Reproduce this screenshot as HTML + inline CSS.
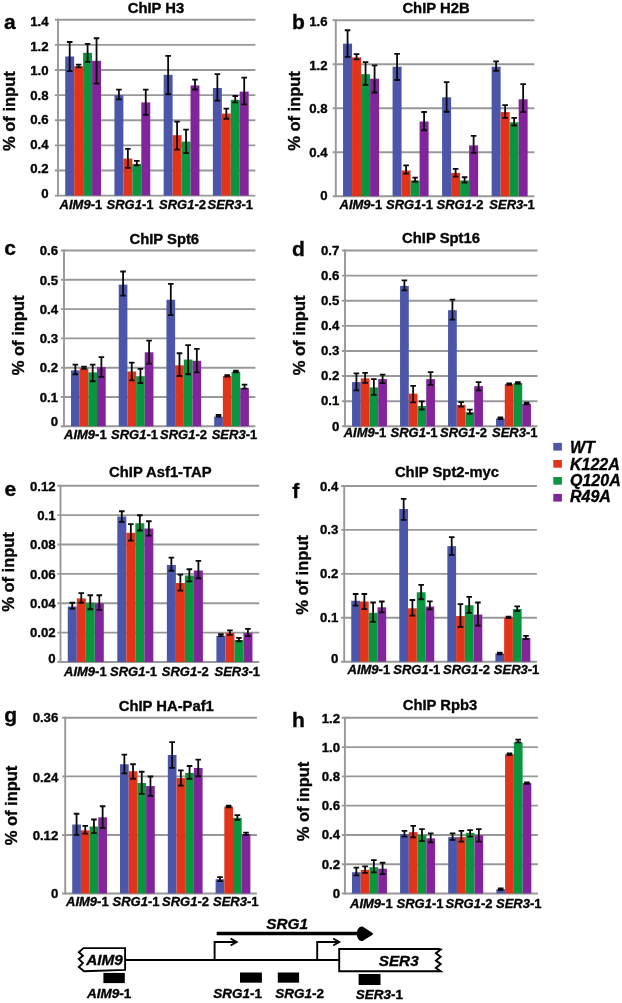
<!DOCTYPE html>
<html lang="en"><head><meta charset="utf-8"><title>ChIP figure</title>
<style>html,body{margin:0;padding:0;background:#fff}svg{display:block}text{font-family:'Liberation Sans', Arial, Helvetica, sans-serif;fill:#050505;stroke:#050505;stroke-width:0.35px}.b{font-weight:bold}.bi{font-weight:bold;font-style:italic}.grid{stroke:#989898;stroke-width:1.9;fill:none}.eb{stroke:#0a0a0a;stroke-width:1.8;fill:none}.blk{stroke:#000;fill:none}.k{fill:#000;stroke:#000}</style></head><body>
<svg width="622" height="1003" viewBox="0 0 622 1003">
<rect width="622" height="1003" fill="#fff"/>
<g id="panel-a">
<line class="grid" x1="54.9" y1="195.6" x2="255.4" y2="195.6"/>
<text class="b" font-size="13.2" text-anchor="end" x="48.6" y="197.8">0</text>
<line class="grid" x1="54.9" y1="170.49" x2="255.4" y2="170.49"/>
<text class="b" font-size="13.2" text-anchor="end" x="48.6" y="173.29">0.2</text>
<line class="grid" x1="54.9" y1="145.37" x2="255.4" y2="145.37"/>
<text class="b" font-size="13.2" text-anchor="end" x="48.6" y="148.72">0.4</text>
<line class="grid" x1="54.9" y1="120.26" x2="255.4" y2="120.26"/>
<text class="b" font-size="13.2" text-anchor="end" x="48.6" y="124.16">0.6</text>
<line class="grid" x1="54.9" y1="95.14" x2="255.4" y2="95.14"/>
<text class="b" font-size="13.2" text-anchor="end" x="48.6" y="99.64">0.8</text>
<line class="grid" x1="54.9" y1="70.03" x2="255.4" y2="70.03"/>
<text class="b" font-size="13.2" text-anchor="end" x="48.6" y="75.08">1.0</text>
<line class="grid" x1="54.9" y1="44.91" x2="255.4" y2="44.91"/>
<text class="b" font-size="13.2" text-anchor="end" x="48.6" y="50.51">1.2</text>
<line class="grid" x1="54.9" y1="19.8" x2="255.4" y2="19.8"/>
<text class="b" font-size="13.2" text-anchor="end" x="48.6" y="26">1.4</text>
<line class="grid" x1="58" y1="18.8" x2="58" y2="196.6"/>
<rect x="65.21" y="56.47" width="8.95" height="139.13" fill="#4b55a9"/>
<rect x="74.16" y="66.26" width="8.95" height="129.34" fill="#e2341a"/>
<rect x="83.11" y="52.83" width="8.95" height="142.77" fill="#0a963e"/>
<rect x="92.06" y="60.86" width="8.95" height="134.74" fill="#82249a"/>
<rect x="114.44" y="95.14" width="8.95" height="100.46" fill="#4b55a9"/>
<rect x="123.39" y="158.56" width="8.95" height="37.04" fill="#e2341a"/>
<rect x="132.34" y="163.96" width="8.95" height="31.64" fill="#0a963e"/>
<rect x="141.29" y="102.43" width="8.95" height="93.17" fill="#82249a"/>
<rect x="163.66" y="74.8" width="8.95" height="120.8" fill="#4b55a9"/>
<rect x="172.61" y="135.2" width="8.95" height="60.4" fill="#e2341a"/>
<rect x="181.56" y="141.6" width="8.95" height="54" fill="#0a963e"/>
<rect x="190.51" y="85.47" width="8.95" height="110.13" fill="#82249a"/>
<rect x="212.89" y="87.99" width="8.95" height="107.61" fill="#4b55a9"/>
<rect x="221.84" y="113.6" width="8.95" height="82" fill="#e2341a"/>
<rect x="230.79" y="99.79" width="8.95" height="95.81" fill="#0a963e"/>
<rect x="239.74" y="91.63" width="8.95" height="103.97" fill="#82249a"/>
<path class="eb" d="M69.69 41.52V71.66M66.89 42.02h5.6M66.89 71.16h5.6"/>
<path class="eb" d="M78.64 64.13V67.89M75.84 64.63h5.6M75.84 67.39h5.6"/>
<path class="eb" d="M87.59 43.28V62.37M84.79 43.78h5.6M84.79 61.87h5.6"/>
<path class="eb" d="M96.54 37.76V84.22M93.74 38.26h5.6M93.74 83.72h5.6"/>
<path class="eb" d="M118.91 89.12V99.79M116.11 89.62h5.6M116.11 99.29h5.6"/>
<path class="eb" d="M127.86 148.39V168.35M125.06 148.89h5.6M125.06 167.85h5.6"/>
<path class="eb" d="M136.81 160.44V165.84M134.01 160.94h5.6M134.01 165.34h5.6"/>
<path class="eb" d="M145.76 89.12V115.23M142.96 89.62h5.6M142.96 114.73h5.6"/>
<path class="eb" d="M168.14 55.34V94.77M165.34 55.84h5.6M165.34 94.27h5.6"/>
<path class="eb" d="M177.09 121.14V150.14M174.29 121.64h5.6M174.29 149.64h5.6"/>
<path class="eb" d="M186.04 129.17V153.66M183.24 129.67h5.6M183.24 153.16h5.6"/>
<path class="eb" d="M194.99 79.2V89.99M192.19 79.7h5.6M192.19 89.49h5.6"/>
<path class="eb" d="M217.36 73.67V101.17M214.56 74.17h5.6M214.56 100.67h5.6"/>
<path class="eb" d="M226.31 108.08V119.25M223.51 108.58h5.6M223.51 118.75h5.6"/>
<path class="eb" d="M235.26 95.52V102.93M232.46 96.02h5.6M232.46 102.43h5.6"/>
<path class="eb" d="M244.21 77.19V104.94M241.41 77.69h5.6M241.41 104.44h5.6"/>
<text font-size="13" x="59.6" y="209"><tspan class="bi">AIM9</tspan><tspan class="b">-1</tspan></text>
<text font-size="13" x="106.5" y="209"><tspan class="bi">SRG1</tspan><tspan class="b">-1</tspan></text>
<text font-size="13" x="159" y="209"><tspan class="bi">SRG1</tspan><tspan class="b">-2</tspan></text>
<text font-size="13" x="207.5" y="209"><tspan class="bi">SER3</tspan><tspan class="b">-1</tspan></text>
<text class="b" font-size="14.8" text-anchor="middle" x="156" y="13.2">ChIP H3</text>
<text class="b" font-size="21" x="4" y="29.3">a</text>
<text class="b" font-size="16.5" text-anchor="middle" transform="translate(15.4 111.1) rotate(-90)">% of input</text>
</g>
<g id="panel-b">
<line class="grid" x1="332.7" y1="196.2" x2="534.4" y2="196.2"/>
<text class="b" font-size="13.2" text-anchor="end" x="327.6" y="200.1">0</text>
<line class="grid" x1="332.7" y1="152.2" x2="534.4" y2="152.2"/>
<text class="b" font-size="13.2" text-anchor="end" x="327.6" y="156.65">0.4</text>
<line class="grid" x1="332.7" y1="108.2" x2="534.4" y2="108.2"/>
<text class="b" font-size="13.2" text-anchor="end" x="327.6" y="113.2">0.8</text>
<line class="grid" x1="332.7" y1="64.2" x2="534.4" y2="64.2"/>
<text class="b" font-size="13.2" text-anchor="end" x="327.6" y="69.75">1.2</text>
<line class="grid" x1="332.7" y1="20.2" x2="534.4" y2="20.2"/>
<text class="b" font-size="13.2" text-anchor="end" x="327.6" y="26.3">1.6</text>
<line class="grid" x1="335.8" y1="19.2" x2="335.8" y2="197.2"/>
<rect x="343.05" y="43.63" width="9" height="152.57" fill="#4b55a9"/>
<rect x="352.06" y="57.38" width="9" height="138.82" fill="#e2341a"/>
<rect x="361.06" y="74.21" width="9" height="121.99" fill="#0a963e"/>
<rect x="370.07" y="78.72" width="9" height="117.48" fill="#82249a"/>
<rect x="392.58" y="66.73" width="9" height="129.47" fill="#4b55a9"/>
<rect x="401.58" y="170.46" width="9" height="25.74" fill="#e2341a"/>
<rect x="410.59" y="180.47" width="9" height="15.73" fill="#0a963e"/>
<rect x="419.59" y="121.51" width="9" height="74.69" fill="#82249a"/>
<rect x="442.1" y="97.31" width="9" height="98.89" fill="#4b55a9"/>
<rect x="451.11" y="172.88" width="9" height="23.32" fill="#e2341a"/>
<rect x="460.11" y="180.47" width="9" height="15.73" fill="#0a963e"/>
<rect x="469.12" y="145.38" width="9" height="50.82" fill="#82249a"/>
<rect x="491.63" y="66.73" width="9" height="129.47" fill="#4b55a9"/>
<rect x="500.63" y="112.05" width="9" height="84.15" fill="#e2341a"/>
<rect x="509.64" y="122.28" width="9" height="73.92" fill="#0a963e"/>
<rect x="518.64" y="99.29" width="9" height="96.91" fill="#82249a"/>
<path class="eb" d="M347.56 29.77V57.38M344.76 30.27h5.6M344.76 56.88h5.6"/>
<path class="eb" d="M356.56 53.64V59.91M353.76 54.14h5.6M353.76 59.41h5.6"/>
<path class="eb" d="M365.56 61.67V85.43M362.76 62.17h5.6M362.76 84.93h5.6"/>
<path class="eb" d="M374.57 64.86V93.02M371.77 65.36h5.6M371.77 92.52h5.6"/>
<path class="eb" d="M397.08 53.42V80.48M394.28 53.92h5.6M394.28 79.98h5.6"/>
<path class="eb" d="M406.09 164.85V174.2M403.29 165.35h5.6M403.29 173.7h5.6"/>
<path class="eb" d="M415.09 177.17V182.23M412.29 177.67h5.6M412.29 181.73h5.6"/>
<path class="eb" d="M424.09 111.5V130.75M421.29 112h5.6M421.29 130.25h5.6"/>
<path class="eb" d="M446.61 81.69V112.27M443.81 82.19h5.6M443.81 111.77h5.6"/>
<path class="eb" d="M455.61 168.37V177.17M452.81 168.87h5.6M452.81 176.67h5.6"/>
<path class="eb" d="M464.61 176.73V183M461.81 177.23h5.6M461.81 182.5h5.6"/>
<path class="eb" d="M473.62 135.37V153.3M470.82 135.87h5.6M470.82 152.8h5.6"/>
<path class="eb" d="M496.13 60.9V71.24M493.33 61.4h5.6M493.33 70.74h5.6"/>
<path class="eb" d="M505.14 104.68V118.32M502.34 105.18h5.6M502.34 117.82h5.6"/>
<path class="eb" d="M514.14 117.33V126.02M511.34 117.83h5.6M511.34 125.52h5.6"/>
<path class="eb" d="M523.14 83.67V112.71M520.34 84.17h5.6M520.34 112.21h5.6"/>
<text font-size="13" x="339.5" y="209.1"><tspan class="bi">AIM9</tspan><tspan class="b">-1</tspan></text>
<text font-size="13" x="386" y="209.1"><tspan class="bi">SRG1</tspan><tspan class="b">-1</tspan></text>
<text font-size="13" x="436.5" y="209.1"><tspan class="bi">SRG1</tspan><tspan class="b">-2</tspan></text>
<text font-size="13" x="489.3" y="209.1"><tspan class="bi">SER3</tspan><tspan class="b">-1</tspan></text>
<text class="b" font-size="14.8" text-anchor="middle" x="436" y="13">ChIP H2B</text>
<text class="b" font-size="21" x="291.9" y="28.6">b</text>
<text class="b" font-size="16.5" text-anchor="middle" transform="translate(299.7 111) rotate(-90)">% of input</text>
</g>
<g id="panel-c">
<line class="grid" x1="60.9" y1="426.3" x2="255.4" y2="426.3"/>
<text class="b" font-size="13.2" text-anchor="end" x="58" y="426.4">0</text>
<line class="grid" x1="60.9" y1="397" x2="255.4" y2="397"/>
<text class="b" font-size="13.2" text-anchor="end" x="58" y="401.6">0.1</text>
<line class="grid" x1="60.9" y1="367.7" x2="255.4" y2="367.7"/>
<text class="b" font-size="13.2" text-anchor="end" x="58" y="372.3">0.2</text>
<line class="grid" x1="60.9" y1="338.4" x2="255.4" y2="338.4"/>
<text class="b" font-size="13.2" text-anchor="end" x="58" y="343">0.3</text>
<line class="grid" x1="60.9" y1="309.1" x2="255.4" y2="309.1"/>
<text class="b" font-size="13.2" text-anchor="end" x="58" y="313.7">0.4</text>
<line class="grid" x1="60.9" y1="279.8" x2="255.4" y2="279.8"/>
<text class="b" font-size="13.2" text-anchor="end" x="58" y="284.5">0.5</text>
<line class="grid" x1="60.9" y1="250.5" x2="255.4" y2="250.5"/>
<text class="b" font-size="13.2" text-anchor="end" x="58" y="255.2">0.6</text>
<line class="grid" x1="64" y1="249.5" x2="64" y2="427.3"/>
<rect x="71.01" y="370.34" width="8.68" height="55.96" fill="#4b55a9"/>
<rect x="79.69" y="368.29" width="8.68" height="58.01" fill="#e2341a"/>
<rect x="88.36" y="372.39" width="8.68" height="53.91" fill="#0a963e"/>
<rect x="97.04" y="367.11" width="8.68" height="59.19" fill="#82249a"/>
<rect x="118.73" y="284.63" width="8.68" height="141.67" fill="#4b55a9"/>
<rect x="127.41" y="371.51" width="8.68" height="54.79" fill="#e2341a"/>
<rect x="136.09" y="376.2" width="8.68" height="50.1" fill="#0a963e"/>
<rect x="144.76" y="352.29" width="8.68" height="74.01" fill="#82249a"/>
<rect x="166.46" y="299.72" width="8.68" height="126.58" fill="#4b55a9"/>
<rect x="175.14" y="365.36" width="8.68" height="60.94" fill="#e2341a"/>
<rect x="183.81" y="359.58" width="8.68" height="66.72" fill="#0a963e"/>
<rect x="192.49" y="360.81" width="8.68" height="65.49" fill="#82249a"/>
<rect x="214.18" y="416.75" width="8.68" height="9.55" fill="#4b55a9"/>
<rect x="222.86" y="375.9" width="8.68" height="50.4" fill="#e2341a"/>
<rect x="231.54" y="371.6" width="8.68" height="54.7" fill="#0a963e"/>
<rect x="240.21" y="387.92" width="8.68" height="38.38" fill="#82249a"/>
<path class="eb" d="M75.35 364.18V374.73M72.55 364.68h5.6M72.55 374.23h5.6"/>
<path class="eb" d="M84.02 366.24V369.46M81.22 366.74h5.6M81.22 368.96h5.6"/>
<path class="eb" d="M92.7 364.18V381.76M89.9 364.68h5.6M89.9 381.26h5.6"/>
<path class="eb" d="M101.38 356.57V377.37M98.58 357.07h5.6M98.58 376.87h5.6"/>
<path class="eb" d="M123.07 271.01V296.21M120.27 271.51h5.6M120.27 295.71h5.6"/>
<path class="eb" d="M131.75 362.13V380.88M128.95 362.63h5.6M128.95 380.38h5.6"/>
<path class="eb" d="M140.43 368.29V383.52M137.63 368.79h5.6M137.63 383.02h5.6"/>
<path class="eb" d="M149.1 340.16V364.18M146.3 340.66h5.6M146.3 363.68h5.6"/>
<path class="eb" d="M170.8 283.32V315.55M168 283.82h5.6M168 315.05h5.6"/>
<path class="eb" d="M179.47 352.76V376.49M176.67 353.26h5.6M176.67 375.99h5.6"/>
<path class="eb" d="M188.15 344.55V374.73M185.35 345.05h5.6M185.35 374.23h5.6"/>
<path class="eb" d="M196.83 348.36V372.97M194.03 348.86h5.6M194.03 372.47h5.6"/>
<path class="eb" d="M218.52 414.29V417.22M215.72 414.79h5.6M215.72 416.72h5.6"/>
<path class="eb" d="M227.2 374.6V377.2M224.4 375.1h5.6M224.4 376.7h5.6"/>
<path class="eb" d="M235.88 370.21V372.81M233.08 370.71h5.6M233.08 372.31h5.6"/>
<path class="eb" d="M244.55 384.11V389.09M241.75 384.61h5.6M241.75 388.59h5.6"/>
<text font-size="13" x="64" y="439.2"><tspan class="bi">AIM9</tspan><tspan class="b">-1</tspan></text>
<text font-size="13" x="111" y="439.2"><tspan class="bi">SRG1</tspan><tspan class="b">-1</tspan></text>
<text font-size="13" x="160" y="439.2"><tspan class="bi">SRG1</tspan><tspan class="b">-2</tspan></text>
<text font-size="13" x="211.7" y="439.2"><tspan class="bi">SER3</tspan><tspan class="b">-1</tspan></text>
<text class="b" font-size="14.8" text-anchor="middle" x="164.3" y="244">ChIP Spt6</text>
<text class="b" font-size="21" x="4.2" y="254.7">c</text>
<text class="b" font-size="16.5" text-anchor="middle" transform="translate(24 335.4) rotate(-90)">% of input</text>
</g>
<g id="panel-d">
<line class="grid" x1="341.9" y1="426.3" x2="537.5" y2="426.3"/>
<text class="b" font-size="13.2" text-anchor="end" x="339.3" y="430.6">0</text>
<line class="grid" x1="341.9" y1="401.19" x2="537.5" y2="401.19"/>
<text class="b" font-size="13.2" text-anchor="end" x="339.3" y="405.49">0.1</text>
<line class="grid" x1="341.9" y1="376.07" x2="537.5" y2="376.07"/>
<text class="b" font-size="13.2" text-anchor="end" x="339.3" y="380.07">0.2</text>
<line class="grid" x1="341.9" y1="350.96" x2="537.5" y2="350.96"/>
<text class="b" font-size="13.2" text-anchor="end" x="339.3" y="355.26">0.3</text>
<line class="grid" x1="341.9" y1="325.84" x2="537.5" y2="325.84"/>
<text class="b" font-size="13.2" text-anchor="end" x="339.3" y="329.64">0.4</text>
<line class="grid" x1="341.9" y1="300.73" x2="537.5" y2="300.73"/>
<text class="b" font-size="13.2" text-anchor="end" x="339.3" y="304.53">0.5</text>
<line class="grid" x1="341.9" y1="275.61" x2="537.5" y2="275.61"/>
<text class="b" font-size="13.2" text-anchor="end" x="339.3" y="279.61">0.6</text>
<line class="grid" x1="341.9" y1="250.5" x2="537.5" y2="250.5"/>
<text class="b" font-size="13.2" text-anchor="end" x="339.3" y="254.8">0.7</text>
<line class="grid" x1="345" y1="249.5" x2="345" y2="427.3"/>
<rect x="352.05" y="382.1" width="8.73" height="44.2" fill="#4b55a9"/>
<rect x="360.77" y="378.33" width="8.73" height="47.97" fill="#e2341a"/>
<rect x="369.5" y="387.37" width="8.73" height="38.93" fill="#0a963e"/>
<rect x="378.23" y="379.09" width="8.73" height="47.21" fill="#82249a"/>
<rect x="400.05" y="285.91" width="8.73" height="140.39" fill="#4b55a9"/>
<rect x="408.77" y="393.65" width="8.73" height="32.65" fill="#e2341a"/>
<rect x="417.5" y="405.96" width="8.73" height="20.34" fill="#0a963e"/>
<rect x="426.23" y="379.09" width="8.73" height="47.21" fill="#82249a"/>
<rect x="448.05" y="310.15" width="8.73" height="116.15" fill="#4b55a9"/>
<rect x="456.77" y="404.95" width="8.73" height="21.35" fill="#e2341a"/>
<rect x="465.5" y="412.24" width="8.73" height="14.06" fill="#0a963e"/>
<rect x="474.23" y="386.12" width="8.73" height="40.18" fill="#82249a"/>
<rect x="496.05" y="418.51" width="8.73" height="7.79" fill="#4b55a9"/>
<rect x="504.77" y="384.11" width="8.73" height="42.19" fill="#e2341a"/>
<rect x="513.5" y="383.1" width="8.73" height="43.2" fill="#0a963e"/>
<rect x="522.23" y="403.7" width="8.73" height="22.6" fill="#82249a"/>
<path class="eb" d="M356.41 372.81V390.89M353.61 373.31h5.6M353.61 390.39h5.6"/>
<path class="eb" d="M365.14 372.3V383.35M362.34 372.8h5.6M362.34 382.85h5.6"/>
<path class="eb" d="M373.86 378.58V395.41M371.06 379.08h5.6M371.06 394.91h5.6"/>
<path class="eb" d="M382.59 374.06V383.61M379.79 374.56h5.6M379.79 383.11h5.6"/>
<path class="eb" d="M404.41 279.88V290.93M401.61 280.38h5.6M401.61 290.43h5.6"/>
<path class="eb" d="M413.14 385.36V402.94M410.34 385.86h5.6M410.34 402.44h5.6"/>
<path class="eb" d="M421.86 400.93V409.98M419.06 401.43h5.6M419.06 409.48h5.6"/>
<path class="eb" d="M430.59 371.55V385.36M427.79 372.05h5.6M427.79 384.86h5.6"/>
<path class="eb" d="M452.41 299.22V320.07M449.61 299.72h5.6M449.61 319.57h5.6"/>
<path class="eb" d="M461.14 401.69V407.21M458.34 402.19h5.6M458.34 406.71h5.6"/>
<path class="eb" d="M469.86 409.22V414.25M467.06 409.72h5.6M467.06 413.75h5.6"/>
<path class="eb" d="M478.59 381.6V390.89M475.79 382.1h5.6M475.79 390.39h5.6"/>
<path class="eb" d="M500.41 416.96V419.56M497.61 417.46h5.6M497.61 419.06h5.6"/>
<path class="eb" d="M509.14 382.81V385.41M506.34 383.31h5.6M506.34 384.91h5.6"/>
<path class="eb" d="M517.86 381.68V384.28M515.06 382.18h5.6M515.06 383.78h5.6"/>
<path class="eb" d="M526.59 402.27V404.87M523.79 402.77h5.6M523.79 404.37h5.6"/>
<text font-size="13" x="343.7" y="437"><tspan class="bi">AIM9</tspan><tspan class="b">-1</tspan></text>
<text font-size="13" x="390.5" y="437"><tspan class="bi">SRG1</tspan><tspan class="b">-1</tspan></text>
<text font-size="13" x="440" y="437"><tspan class="bi">SRG1</tspan><tspan class="b">-2</tspan></text>
<text font-size="13" x="492" y="437"><tspan class="bi">SER3</tspan><tspan class="b">-1</tspan></text>
<text class="b" font-size="14.8" text-anchor="middle" x="441" y="243">ChIP Spt16</text>
<text class="b" font-size="21" x="292" y="255.6">d</text>
<text class="b" font-size="16.5" text-anchor="middle" transform="translate(305.4 335.4) rotate(-90)">% of input</text>
</g>
<g id="panel-e">
<line class="grid" x1="57.4" y1="662" x2="259.2" y2="662"/>
<text class="b" font-size="13.2" text-anchor="end" x="55.6" y="662.9">0</text>
<line class="grid" x1="57.4" y1="632.63" x2="259.2" y2="632.63"/>
<text class="b" font-size="13.2" text-anchor="end" x="55.6" y="637.13">0.02</text>
<line class="grid" x1="57.4" y1="603.27" x2="259.2" y2="603.27"/>
<text class="b" font-size="13.2" text-anchor="end" x="55.6" y="607.77">0.04</text>
<line class="grid" x1="57.4" y1="573.9" x2="259.2" y2="573.9"/>
<text class="b" font-size="13.2" text-anchor="end" x="55.6" y="578.5">0.06</text>
<line class="grid" x1="57.4" y1="544.53" x2="259.2" y2="544.53"/>
<text class="b" font-size="13.2" text-anchor="end" x="55.6" y="549.13">0.08</text>
<line class="grid" x1="57.4" y1="515.17" x2="259.2" y2="515.17"/>
<text class="b" font-size="13.2" text-anchor="end" x="55.6" y="519.87">0.1</text>
<line class="grid" x1="57.4" y1="485.8" x2="259.2" y2="485.8"/>
<text class="b" font-size="13.2" text-anchor="end" x="55.6" y="490.5">0.12</text>
<line class="grid" x1="60.5" y1="484.8" x2="60.5" y2="663"/>
<rect x="67.76" y="606.5" width="9.01" height="55.5" fill="#4b55a9"/>
<rect x="76.77" y="598.42" width="9.01" height="63.58" fill="#e2341a"/>
<rect x="85.77" y="602.83" width="9.01" height="59.17" fill="#0a963e"/>
<rect x="94.78" y="603.27" width="9.01" height="58.73" fill="#82249a"/>
<rect x="117.31" y="516.49" width="9.01" height="145.51" fill="#4b55a9"/>
<rect x="126.32" y="532.79" width="9.01" height="129.21" fill="#e2341a"/>
<rect x="135.32" y="523.24" width="9.01" height="138.76" fill="#0a963e"/>
<rect x="144.33" y="528.53" width="9.01" height="133.47" fill="#82249a"/>
<rect x="166.86" y="564.94" width="9.01" height="97.06" fill="#4b55a9"/>
<rect x="175.87" y="583" width="9.01" height="79" fill="#e2341a"/>
<rect x="184.88" y="575.52" width="9.01" height="86.48" fill="#0a963e"/>
<rect x="193.88" y="570.52" width="9.01" height="91.48" fill="#82249a"/>
<rect x="216.41" y="635.86" width="9.01" height="26.14" fill="#4b55a9"/>
<rect x="225.42" y="632.93" width="9.01" height="29.07" fill="#e2341a"/>
<rect x="234.42" y="639.98" width="9.01" height="22.02" fill="#0a963e"/>
<rect x="243.43" y="632.93" width="9.01" height="29.07" fill="#82249a"/>
<path class="eb" d="M72.26 602.24V609.14M69.46 602.74h5.6M69.46 608.64h5.6"/>
<path class="eb" d="M81.27 592.69V603.27M78.47 593.19h5.6M78.47 602.77h5.6"/>
<path class="eb" d="M90.28 594.75V609.73M87.48 595.25h5.6M87.48 609.23h5.6"/>
<path class="eb" d="M99.29 594.75V610.31M96.49 595.25h5.6M96.49 609.81h5.6"/>
<path class="eb" d="M121.81 510.76V522.36M119.01 511.26h5.6M119.01 521.86h5.6"/>
<path class="eb" d="M130.82 523.54V541.16M128.02 524.04h5.6M128.02 540.66h5.6"/>
<path class="eb" d="M139.83 514.73V531.02M137.03 515.23h5.6M137.03 530.52h5.6"/>
<path class="eb" d="M148.84 520.75V536.16M146.04 521.25h5.6M146.04 535.66h5.6"/>
<path class="eb" d="M171.36 557.16V571.26M168.56 557.66h5.6M168.56 570.76h5.6"/>
<path class="eb" d="M180.37 574.19V591.08M177.57 574.69h5.6M177.57 590.58h5.6"/>
<path class="eb" d="M189.38 568.76V581.83M186.58 569.26h5.6M186.58 581.33h5.6"/>
<path class="eb" d="M198.39 560.39V578.75M195.59 560.89h5.6M195.59 578.25h5.6"/>
<path class="eb" d="M220.91 633.66V636.6M218.11 634.16h5.6M218.11 636.1h5.6"/>
<path class="eb" d="M229.92 629.84V635.42M227.12 630.34h5.6M227.12 634.92h5.6"/>
<path class="eb" d="M238.93 637.33V641.74M236.13 637.83h5.6M236.13 641.24h5.6"/>
<path class="eb" d="M247.94 628.38V636.6M245.14 628.88h5.6M245.14 636.1h5.6"/>
<text font-size="13" x="64" y="675.5"><tspan class="bi">AIM9</tspan><tspan class="b">-1</tspan></text>
<text font-size="13" x="110" y="675.5"><tspan class="bi">SRG1</tspan><tspan class="b">-1</tspan></text>
<text font-size="13" x="161.8" y="675.5"><tspan class="bi">SRG1</tspan><tspan class="b">-2</tspan></text>
<text font-size="13" x="214.5" y="675.5"><tspan class="bi">SER3</tspan><tspan class="b">-1</tspan></text>
<text class="b" font-size="14.8" text-anchor="middle" x="160.3" y="477">ChIP Asf1-TAP</text>
<text class="b" font-size="21" x="4.5" y="495.8">e</text>
<text class="b" font-size="16.5" text-anchor="middle" transform="translate(14.2 572) rotate(-90)">% of input</text>
</g>
<g id="panel-f">
<line class="grid" x1="341.1" y1="661.7" x2="536.9" y2="661.7"/>
<text class="b" font-size="13.2" text-anchor="end" x="338.3" y="663.3">0</text>
<line class="grid" x1="341.1" y1="617.78" x2="536.9" y2="617.78"/>
<text class="b" font-size="13.2" text-anchor="end" x="338.3" y="622.28">0.1</text>
<line class="grid" x1="341.1" y1="573.85" x2="536.9" y2="573.85"/>
<text class="b" font-size="13.2" text-anchor="end" x="338.3" y="577.95">0.2</text>
<line class="grid" x1="341.1" y1="529.92" x2="536.9" y2="529.92"/>
<text class="b" font-size="13.2" text-anchor="end" x="338.3" y="534.22">0.3</text>
<line class="grid" x1="341.1" y1="486" x2="536.9" y2="486"/>
<text class="b" font-size="13.2" text-anchor="end" x="338.3" y="490.6">0.4</text>
<line class="grid" x1="344.2" y1="485" x2="344.2" y2="662.7"/>
<rect x="351.25" y="600.78" width="8.74" height="60.92" fill="#4b55a9"/>
<rect x="359.99" y="601.52" width="8.74" height="60.18" fill="#e2341a"/>
<rect x="368.73" y="612.81" width="8.74" height="48.89" fill="#0a963e"/>
<rect x="377.46" y="607.28" width="8.74" height="54.42" fill="#82249a"/>
<rect x="399.3" y="508.97" width="8.74" height="152.73" fill="#4b55a9"/>
<rect x="408.04" y="608.29" width="8.74" height="53.41" fill="#e2341a"/>
<rect x="416.78" y="592.25" width="8.74" height="69.45" fill="#0a963e"/>
<rect x="425.51" y="606.53" width="8.74" height="55.17" fill="#82249a"/>
<rect x="447.35" y="546.13" width="8.74" height="115.57" fill="#4b55a9"/>
<rect x="456.09" y="616.06" width="8.74" height="45.64" fill="#e2341a"/>
<rect x="464.82" y="605.26" width="8.74" height="56.44" fill="#0a963e"/>
<rect x="473.56" y="614.57" width="8.74" height="47.13" fill="#82249a"/>
<rect x="495.4" y="653.49" width="8.74" height="8.21" fill="#4b55a9"/>
<rect x="504.14" y="617.34" width="8.74" height="44.36" fill="#e2341a"/>
<rect x="512.88" y="609.03" width="8.74" height="52.67" fill="#0a963e"/>
<rect x="521.61" y="637.89" width="8.74" height="23.81" fill="#82249a"/>
<path class="eb" d="M355.62 593.48V606.05M352.82 593.98h5.6M352.82 605.55h5.6"/>
<path class="eb" d="M364.36 593.48V609.56M361.56 593.98h5.6M361.56 609.06h5.6"/>
<path class="eb" d="M373.09 602.01V622.34M370.29 602.51h5.6M370.29 621.84h5.6"/>
<path class="eb" d="M381.83 601V612.81M379.03 601.5h5.6M379.03 612.31h5.6"/>
<path class="eb" d="M403.67 498.47V520.31M400.87 498.97h5.6M400.87 519.81h5.6"/>
<path class="eb" d="M412.41 599.5V616.06M409.61 600h5.6M409.61 615.56h5.6"/>
<path class="eb" d="M421.14 584.44V599.77M418.34 584.94h5.6M418.34 599.27h5.6"/>
<path class="eb" d="M429.88 600.78V609.78M427.08 601.28h5.6M427.08 609.28h5.6"/>
<path class="eb" d="M451.72 536.6V555.4M448.92 537.1h5.6M448.92 554.9h5.6"/>
<path class="eb" d="M460.46 603.54V627.35M457.66 604.04h5.6M457.66 626.85h5.6"/>
<path class="eb" d="M469.19 596.47V613.29M466.39 596.97h5.6M466.39 612.79h5.6"/>
<path class="eb" d="M477.93 602.01V626.08M475.13 602.51h5.6M475.13 625.58h5.6"/>
<path class="eb" d="M499.77 652.19V654.79M496.97 652.69h5.6M496.97 654.29h5.6"/>
<path class="eb" d="M508.51 616.04V618.64M505.71 616.54h5.6M505.71 618.14h5.6"/>
<path class="eb" d="M517.24 605.78V611.54M514.44 606.28h5.6M514.44 611.04h5.6"/>
<path class="eb" d="M525.98 635.39V639.65M523.18 635.89h5.6M523.18 639.15h5.6"/>
<text font-size="13" x="347.5" y="673.8"><tspan class="bi">AIM9</tspan><tspan class="b">-1</tspan></text>
<text font-size="13" x="393.3" y="673.8"><tspan class="bi">SRG1</tspan><tspan class="b">-1</tspan></text>
<text font-size="13" x="443" y="673.8"><tspan class="bi">SRG1</tspan><tspan class="b">-2</tspan></text>
<text font-size="13" x="493.8" y="673.8"><tspan class="bi">SER3</tspan><tspan class="b">-1</tspan></text>
<text class="b" font-size="14.8" text-anchor="middle" x="447" y="477.2">ChIP Spt2-myc</text>
<text class="b" font-size="21" x="292.2" y="498">f</text>
<text class="b" font-size="16.5" text-anchor="middle" transform="translate(308.4 575) rotate(-90)">% of input</text>
</g>
<g id="panel-g">
<line class="grid" x1="62.1" y1="893.5" x2="256.9" y2="893.5"/>
<text class="b" font-size="13.2" text-anchor="end" x="58.3" y="897.8">0</text>
<line class="grid" x1="62.1" y1="834.93" x2="256.9" y2="834.93"/>
<text class="b" font-size="13.2" text-anchor="end" x="58.3" y="839.63">0.12</text>
<line class="grid" x1="62.1" y1="776.37" x2="256.9" y2="776.37"/>
<text class="b" font-size="13.2" text-anchor="end" x="58.3" y="782.07">0.24</text>
<line class="grid" x1="62.1" y1="717.8" x2="256.9" y2="717.8"/>
<text class="b" font-size="13.2" text-anchor="end" x="58.3" y="721.5">0.36</text>
<line class="grid" x1="65.2" y1="716.8" x2="65.2" y2="894.5"/>
<rect x="72.22" y="824.54" width="8.69" height="68.96" fill="#4b55a9"/>
<rect x="80.91" y="830.35" width="8.69" height="63.15" fill="#e2341a"/>
<rect x="89.6" y="826.54" width="8.69" height="66.96" fill="#0a963e"/>
<rect x="98.29" y="817.31" width="8.69" height="76.19" fill="#82249a"/>
<rect x="120.02" y="764.26" width="8.69" height="129.24" fill="#4b55a9"/>
<rect x="128.71" y="771.24" width="8.69" height="122.26" fill="#e2341a"/>
<rect x="137.4" y="783.05" width="8.69" height="110.45" fill="#0a963e"/>
<rect x="146.09" y="786.03" width="8.69" height="107.47" fill="#82249a"/>
<rect x="167.82" y="754.94" width="8.69" height="138.56" fill="#4b55a9"/>
<rect x="176.51" y="778.03" width="8.69" height="115.47" fill="#e2341a"/>
<rect x="185.2" y="772.95" width="8.69" height="120.55" fill="#0a963e"/>
<rect x="193.89" y="767.97" width="8.69" height="125.53" fill="#82249a"/>
<rect x="215.62" y="879.2" width="8.69" height="14.3" fill="#4b55a9"/>
<rect x="224.31" y="806.53" width="8.69" height="86.97" fill="#e2341a"/>
<rect x="233" y="817.85" width="8.69" height="75.65" fill="#0a963e"/>
<rect x="241.69" y="834.1" width="8.69" height="59.4" fill="#82249a"/>
<path class="eb" d="M76.56 813.26V835.32M73.76 813.76h5.6M73.76 834.82h5.6"/>
<path class="eb" d="M85.25 825.32V834.1M82.45 825.82h5.6M82.45 833.6h5.6"/>
<path class="eb" d="M93.95 819.02V833.62M91.15 819.52h5.6M91.15 833.12h5.6"/>
<path class="eb" d="M102.64 805.75V828.34M99.84 806.25h5.6M99.84 827.84h5.6"/>
<path class="eb" d="M124.36 754.16V773.78M121.56 754.66h5.6M121.56 773.28h5.6"/>
<path class="eb" d="M133.05 763.77V779.25M130.25 764.27h5.6M130.25 778.75h5.6"/>
<path class="eb" d="M141.75 771.24V794.33M138.95 771.74h5.6M138.95 793.83h5.6"/>
<path class="eb" d="M150.44 775.98V796.33M147.64 776.48h5.6M147.64 795.83h5.6"/>
<path class="eb" d="M172.16 741.67V768.46M169.36 742.17h5.6M169.36 767.96h5.6"/>
<path class="eb" d="M180.85 769.97V786.03M178.05 770.47h5.6M178.05 785.53h5.6"/>
<path class="eb" d="M189.55 765.48V779.25M186.75 765.98h5.6M186.75 778.75h5.6"/>
<path class="eb" d="M198.24 759.19V776.76M195.44 759.69h5.6M195.44 776.26h5.6"/>
<path class="eb" d="M219.96 876.71V881.69M217.16 877.21h5.6M217.16 881.19h5.6"/>
<path class="eb" d="M228.65 805.2V807.8M225.85 805.7h5.6M225.85 807.3h5.6"/>
<path class="eb" d="M237.35 814.53V820.29M234.55 815.03h5.6M234.55 819.79h5.6"/>
<path class="eb" d="M246.04 832.1V835.32M243.24 832.6h5.6M243.24 834.82h5.6"/>
<text font-size="13" x="66" y="905.8"><tspan class="bi">AIM9</tspan><tspan class="b">-1</tspan></text>
<text font-size="13" x="112.5" y="905.8"><tspan class="bi">SRG1</tspan><tspan class="b">-1</tspan></text>
<text font-size="13" x="162" y="905.8"><tspan class="bi">SRG1</tspan><tspan class="b">-2</tspan></text>
<text font-size="13" x="213" y="905.8"><tspan class="bi">SER3</tspan><tspan class="b">-1</tspan></text>
<text class="b" font-size="14.8" text-anchor="middle" x="166.3" y="711">ChIP HA-Paf1</text>
<text class="b" font-size="21" x="4.2" y="722.3">g</text>
<text class="b" font-size="16.5" text-anchor="middle" transform="translate(16.7 805.5) rotate(-90)">% of input</text>
</g>
<g id="panel-h">
<line class="grid" x1="341.8" y1="893.5" x2="537.9" y2="893.5"/>
<text class="b" font-size="13.2" text-anchor="end" x="340" y="897.8">0</text>
<line class="grid" x1="341.8" y1="864.22" x2="537.9" y2="864.22"/>
<text class="b" font-size="13.2" text-anchor="end" x="340" y="868.62">0.2</text>
<line class="grid" x1="341.8" y1="834.93" x2="537.9" y2="834.93"/>
<text class="b" font-size="13.2" text-anchor="end" x="340" y="839.43">0.4</text>
<line class="grid" x1="341.8" y1="805.65" x2="537.9" y2="805.65"/>
<text class="b" font-size="13.2" text-anchor="end" x="340" y="810.25">0.6</text>
<line class="grid" x1="341.8" y1="776.37" x2="537.9" y2="776.37"/>
<text class="b" font-size="13.2" text-anchor="end" x="340" y="781.17">0.8</text>
<line class="grid" x1="341.8" y1="747.08" x2="537.9" y2="747.08"/>
<text class="b" font-size="13.2" text-anchor="end" x="340" y="751.98">1.0</text>
<line class="grid" x1="341.8" y1="717.8" x2="537.9" y2="717.8"/>
<text class="b" font-size="13.2" text-anchor="end" x="340" y="722.8">1.2</text>
<line class="grid" x1="344.9" y1="716.8" x2="344.9" y2="894.5"/>
<rect x="351.96" y="872.21" width="8.75" height="21.29" fill="#4b55a9"/>
<rect x="360.71" y="869.91" width="8.75" height="23.59" fill="#e2341a"/>
<rect x="369.46" y="867.22" width="8.75" height="26.28" fill="#0a963e"/>
<rect x="378.21" y="868.71" width="8.75" height="24.79" fill="#82249a"/>
<rect x="400.09" y="834.13" width="8.75" height="59.37" fill="#4b55a9"/>
<rect x="408.84" y="832.14" width="8.75" height="61.36" fill="#e2341a"/>
<rect x="417.59" y="834.83" width="8.75" height="58.67" fill="#0a963e"/>
<rect x="426.34" y="838.33" width="8.75" height="55.17" fill="#82249a"/>
<rect x="448.21" y="837.13" width="8.75" height="56.37" fill="#4b55a9"/>
<rect x="456.96" y="837.13" width="8.75" height="56.37" fill="#e2341a"/>
<rect x="465.71" y="832.84" width="8.75" height="60.66" fill="#0a963e"/>
<rect x="474.46" y="835.33" width="8.75" height="58.17" fill="#82249a"/>
<rect x="496.34" y="889.2" width="8.75" height="4.3" fill="#4b55a9"/>
<rect x="505.09" y="754.18" width="8.75" height="139.32" fill="#e2341a"/>
<rect x="513.84" y="742.19" width="8.75" height="151.31" fill="#0a963e"/>
<rect x="522.59" y="783.06" width="8.75" height="110.44" fill="#82249a"/>
<path class="eb" d="M356.34 867.22V875.92M353.54 867.72h5.6M353.54 875.42h5.6"/>
<path class="eb" d="M365.09 865.92V873.41M362.29 866.42h5.6M362.29 872.91h5.6"/>
<path class="eb" d="M373.84 859.62V872.91M371.04 860.12h5.6M371.04 872.41h5.6"/>
<path class="eb" d="M382.59 862.23V874.71M379.79 862.73h5.6M379.79 874.21h5.6"/>
<path class="eb" d="M404.46 830.34V837.13M401.66 830.84h5.6M401.66 836.63h5.6"/>
<path class="eb" d="M413.21 825.34V837.86M410.41 825.84h5.6M410.41 837.36h5.6"/>
<path class="eb" d="M421.96 828.53V841.62M419.16 829.03h5.6M419.16 841.12h5.6"/>
<path class="eb" d="M430.71 832.84V842.83M427.91 833.34h5.6M427.91 842.33h5.6"/>
<path class="eb" d="M452.59 832.84V840.34M449.79 833.34h5.6M449.79 839.84h5.6"/>
<path class="eb" d="M461.34 830.34V842.12M458.54 830.84h5.6M458.54 841.62h5.6"/>
<path class="eb" d="M470.09 829.53V837.13M467.29 830.03h5.6M467.29 836.63h5.6"/>
<path class="eb" d="M478.84 828.53V842.12M476.04 829.03h5.6M476.04 841.62h5.6"/>
<path class="eb" d="M500.71 887.88V890.48M497.91 888.38h5.6M497.91 889.98h5.6"/>
<path class="eb" d="M509.46 752.88V755.48M506.66 753.38h5.6M506.66 754.98h5.6"/>
<path class="eb" d="M518.21 739.18V742.88M515.41 739.68h5.6M515.41 742.38h5.6"/>
<path class="eb" d="M526.96 781.8V784.4M524.16 782.3h5.6M524.16 783.9h5.6"/>
<text font-size="13" x="350" y="907.7"><tspan class="bi">AIM9</tspan><tspan class="b">-1</tspan></text>
<text font-size="13" x="396.5" y="907.7"><tspan class="bi">SRG1</tspan><tspan class="b">-1</tspan></text>
<text font-size="13" x="445.5" y="907.7"><tspan class="bi">SRG1</tspan><tspan class="b">-2</tspan></text>
<text font-size="13" x="496" y="907.7"><tspan class="bi">SER3</tspan><tspan class="b">-1</tspan></text>
<text class="b" font-size="14.8" text-anchor="middle" x="440" y="710.4">ChIP Rpb3</text>
<text class="b" font-size="21" x="292" y="727">h</text>
<text class="b" font-size="16.5" text-anchor="middle" transform="translate(309 801.5) rotate(-90)">% of input</text>
</g>
<g id="legend">
<rect x="553.3" y="442.9" width="8.6" height="7.7" fill="#4b55a9"/>
<text class="bi k" font-size="16" x="570" y="452.9">WT</text>
<rect x="553.3" y="460" width="8.6" height="7.7" fill="#e2341a"/>
<text class="bi k" font-size="16" x="570" y="469.6">K122A</text>
<rect x="553.3" y="477" width="8.6" height="7.7" fill="#0a963e"/>
<text class="bi k" font-size="16" x="570" y="486.4">Q120A</text>
<rect x="553.3" y="493.9" width="8.6" height="7.7" fill="#82249a"/>
<text class="bi k" font-size="16" x="570" y="502.3">R49A</text>
</g>
<g id="diagram">
<line x1="125" y1="960" x2="340" y2="960" stroke="#000" stroke-width="2.1"/>
<path class="blk" stroke-width="1.9" stroke-linejoin="miter" d="M83.5 948.1H125.1V969.9L84 971.3L78.8 967L82.9 963.1L78.8 959.1L82.9 955.8L78.8 952.2Z"/>
<text class="bi k" font-size="15.3" x="86.3" y="965.4">AIM9</text>
<path class="blk" stroke-width="1.9" stroke-linejoin="miter" d="M339.2 949H438.8L440.7 949.4L435.9 953.2L440.7 956.7L435.9 960.6L440.7 964.1L435.9 968L440.7 971.3H339.2Z"/>
<text class="bi k" font-size="15.3" x="378.7" y="965.9">SER3</text>
<line x1="216.7" y1="933.5" x2="360" y2="933.5" stroke="#000" stroke-width="3.6"/>
<path d="M362 927.4C356.4 927.4 356.4 940.2 362 940.2L372 933.8Z" fill="#000" stroke="#000" stroke-width="2" stroke-linejoin="round"/>
<text class="bi k" font-size="15.3" x="266.3" y="929.3">SRG1</text>
<path class="blk" stroke-width="1.9" d="M214.6 960V942H236.1"/>
<path class="blk" stroke-width="2" d="M230.6 938.5L236.6 942L230.6 945.5"/>
<path class="blk" stroke-width="1.9" d="M317.2 960V942H338.7"/>
<path class="blk" stroke-width="2" d="M333.2 938.5L339.2 942L333.2 945.5"/>
<rect x="103.4" y="972.9" width="21.4" height="10.2" fill="#000"/>
<rect x="240" y="972.5" width="21.9" height="10.2" fill="#000"/>
<rect x="277.8" y="972.5" width="21.3" height="10.2" fill="#000"/>
<rect x="358.6" y="974" width="21.9" height="11" fill="#000"/>
<text class="k" font-size="13.5" x="87.1" y="997.8"><tspan class="bi">AIM9</tspan><tspan class="b">-1</tspan></text>
<text class="k" font-size="13.5" x="213.3" y="997.8"><tspan class="bi">SRG1</tspan><tspan class="b">-1</tspan></text>
<text class="k" font-size="13.5" x="275.3" y="997.8"><tspan class="bi">SRG1</tspan><tspan class="b">-2</tspan></text>
<text class="k" font-size="13.5" x="355.7" y="999"><tspan class="bi">SER3</tspan><tspan class="b">-1</tspan></text>
</g>
</svg></body></html>
